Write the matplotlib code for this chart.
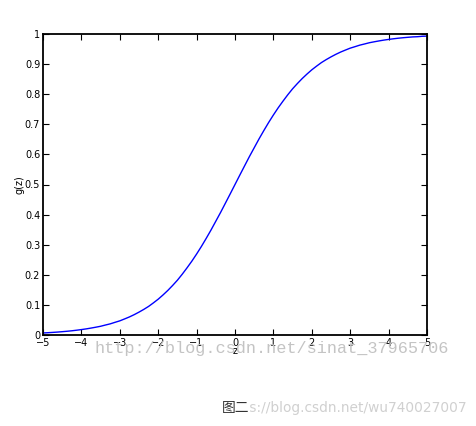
import matplotlib
matplotlib.use("Agg")
import matplotlib.pyplot as plt

z = [-5.0, -4.875, -4.75, -4.625, -4.5, -4.375, -4.25, -4.125, -4.0, -3.875,
     -3.75, -3.625, -3.5, -3.375, -3.25, -3.125, -3.0, -2.875, -2.75, -2.625,
     -2.5, -2.375, -2.25, -2.125, -2.0, -1.875, -1.75, -1.625, -1.5, -1.375,
     -1.25, -1.125, -1.0, -0.875, -0.75, -0.625, -0.5, -0.375, -0.25, -0.125,
     0.0, 0.125, 0.25, 0.375, 0.5, 0.625, 0.75, 0.875, 1.0, 1.125,
     1.25, 1.375, 1.5, 1.625, 1.75, 1.875, 2.0, 2.125, 2.25, 2.375,
     2.5, 2.625, 2.75, 2.875, 3.0, 3.125, 3.25, 3.375, 3.5, 3.625,
     3.75, 3.875, 4.0, 4.125, 4.25, 4.375, 4.5, 4.625, 4.75, 4.875, 5.0]
gz = [0.0067, 0.0076, 0.0086, 0.0097, 0.011, 0.0124, 0.014, 0.0159, 0.018, 0.0203,
      0.023, 0.0259, 0.029, 0.0331, 0.037, 0.0421, 0.047, 0.0534, 0.060, 0.0676,
      0.076, 0.0851, 0.095, 0.1067, 0.119, 0.133, 0.148, 0.1645, 0.182, 0.2018,
      0.223, 0.2451, 0.269, 0.2942, 0.321, 0.3487, 0.378, 0.4073, 0.438, 0.4688,
      0.5, 0.5312, 0.562, 0.5927, 0.622, 0.6513, 0.679, 0.7058, 0.731, 0.7549,
      0.777, 0.7982, 0.818, 0.8355, 0.852, 0.867, 0.881, 0.8933, 0.905, 0.9149,
      0.924, 0.9324, 0.940, 0.9466, 0.953, 0.9579, 0.963, 0.9669, 0.971, 0.9741,
      0.977, 0.9797, 0.982, 0.9841, 0.986, 0.9876, 0.989, 0.9903, 0.991, 0.9924,
      0.993]
xticks = [-5, -4, -3, -2, -1, 0, 1, 2, 3, 4, 5]
yticks = [0, 0.1, 0.2, 0.3, 0.4, 0.5, 0.6, 0.7, 0.8, 0.9, 1]
yticklabels = ["0", "0.1", "0.2", "0.3", "0.4", "0.5", "0.6", "0.7", "0.8", "0.9", "1"]

W, H = 476, 426
fig = plt.figure(figsize=(W / 100, H / 100), dpi=100)
ax = fig.add_axes([43 / W, 1 - 335 / H, (427 - 43) / W, (335 - 34) / H])
ax.plot(z, gz, color="#0000ff", linewidth=1.0)
ax.set_xlim(-5, 5)
ax.set_ylim(0, 1)
ax.set_xticks(xticks)
ax.set_xticklabels([str(v).replace("-", "\u2212") for v in xticks])
ax.set_yticks(yticks)
ax.set_yticklabels(yticklabels)
ax.tick_params(direction="in", length=4, width=0.8, labelsize=7, top=True, right=True, pad=2)
for s in ax.spines.values():
    s.set_linewidth(1.3)
ax.set_xlabel("z", fontsize=7, labelpad=-1)
ax.set_ylabel("g(z)", fontsize=7, labelpad=0)

# watermarks
fig.text(95 / W, 1 - 349 / H, "http://blog.csdn.net/sinat_37965706", family="Liberation Mono",
         fontsize=12.2, color="#c4c4c4", va="center", ha="left")
fig.text(222 / W, 1 - 408 / H, "https://blog.csdn.net/wu740027007", family="DejaVu Sans",
         fontsize=9.9, color="#d0d0d0", va="center", ha="left")
fig.text(222 / W, 1 - 408 / H, "图二", family=["Noto Sans CJK SC", "DejaVu Sans"],
         fontsize=9.9, color="#333333", va="center", ha="left",
         bbox=dict(facecolor="white", edgecolor="none", pad=0.5))

fig.savefig("out.png", dpi=100)
